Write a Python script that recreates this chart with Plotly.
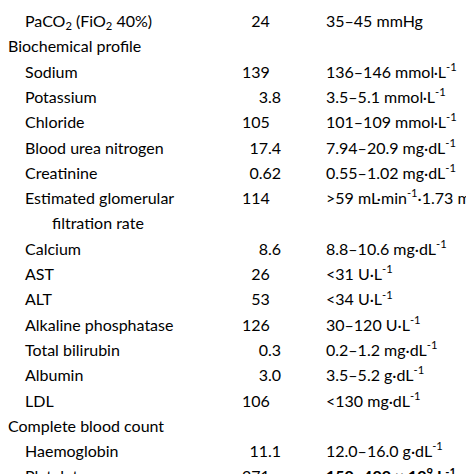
import plotly.graph_objects as go

labels = ["PaCO<sub>2</sub> (FiO<sub>2</sub> 40%)", "Biochemical profile", "Sodium", "Potassium",
          "Chloride", "Blood urea nitrogen", "Creatinine", "Estimated glomerular",
          "filtration rate", "Calcium", "AST", "ALT",
          "Alkaline phosphatase", "Total bilirubin", "Albumin", "LDL",
          "Complete blood count", "Haemoglobin", "Platelets"]
is_header = [False, True, False, False, False, False, False, False, False, False, False, False,
             False, False, False, False, True, False, False]
values = ["24", "", "139", "3.8", "105", "17.4", "0.62", "114", "", "8.6", "26", "53", "126", "0.3", "3.0",
          "106", "", "11.1", "271"]
ranges = ["35–45 mmHg", "", "136–146 mmol·L<sup>-1</sup>", "3.5–5.1 mmol·L<sup>-1</sup>",
          "101–109 mmol·L<sup>-1</sup>", "7.94–20.9 mg·dL<sup>-1</sup>", "0.55–1.02 mg·dL<sup>-1</sup>",
          ">59 mL·min<sup>-1</sup>·1.73 m<sup>-2</sup>", "", "8.8–10.6 mg·dL<sup>-1</sup>", "<31 U·L<sup>-1</sup>",
          "<34 U·L<sup>-1</sup>", "30–120 U·L<sup>-1</sup>", "0.2–1.2 mg·dL<sup>-1</sup>",
          "3.5–5.2 g·dL<sup>-1</sup>", "<130 mg·dL<sup>-1</sup>", "", "12.0–16.0 g·dL<sup>-1</sup>",
          "<b>150–400 × 10<sup>9</sup> L<sup>-1</sup></b>"]

rows = list(range(len(labels)))
font = dict(family="Lato", size=16, color="black")

# column anchors in pixels (layout, not data)
X_HEAD, X_LABEL, X_VALUE, X_RANGE = 0, 17, 273, 318


def align_val(v):
    # crude decimal alignment: pad integers so the point lines up
    if v and "." not in v:
        return v + "\u2007\u2009"
    return v


label_x = [X_HEAD if h else X_LABEL for h in is_header]
# continuation line of eGFR is indented further
label_x[labels.index("filtration rate")] = 44

fig = go.Figure()
fig.add_trace(go.Scatter(x=label_x, y=rows, text=labels, mode="text",
                         textposition="middle right", textfont=font, hoverinfo="skip"))
fig.add_trace(go.Scatter(x=[X_VALUE] * len(rows), y=rows, text=[align_val(v) for v in values], mode="text",
                         textposition="middle left", textfont=font, hoverinfo="skip"))
fig.add_trace(go.Scatter(x=[X_RANGE] * len(rows), y=rows, text=ranges, mode="text",
                         textposition="middle right", textfont=font, hoverinfo="skip"))

fig.update_xaxes(range=[0, 474], visible=False, fixedrange=True)
# row 0 centred at ~15px, spacing ~25.3px
fig.update_yaxes(range=[474 / 25.3 - 15 / 25.3 - 0.0, -15 / 25.3], visible=False, fixedrange=True)
fig.update_layout(width=474, height=474, margin=dict(l=0, r=0, t=0, b=0), showlegend=False,
                  paper_bgcolor="white", plot_bgcolor="white")
fig.write_html("out.html")
